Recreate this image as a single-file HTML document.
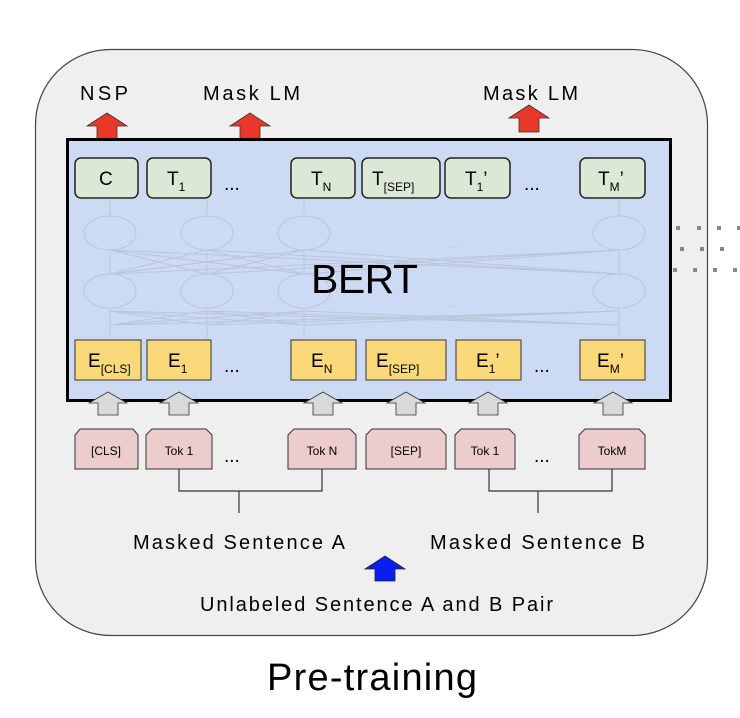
<!DOCTYPE html>
<html><head><meta charset="utf-8"><style>
html,body{margin:0;padding:0;background:#fff;}
svg{display:block;font-family:"Liberation Sans",Arial,sans-serif;}
</style></head><body>
<svg width="740" height="718" viewBox="0 0 740 718" xmlns="http://www.w3.org/2000/svg">
<rect x="35.5" y="49.5" width="672" height="586" rx="75" ry="75" fill="#efefef" stroke="#444" stroke-width="1.2"/>
<!-- dotted lines right -->
<g fill="#888">
<rect x="676" y="226" width="4" height="4"/><rect x="697" y="226" width="4" height="4"/><rect x="717" y="226" width="4" height="4"/><rect x="737" y="226" width="4" height="4"/>
<rect x="680" y="247" width="4" height="4"/><rect x="700" y="247" width="4" height="4"/><rect x="720" y="247" width="4" height="4"/>
<rect x="673" y="268" width="4" height="4"/><rect x="693" y="268" width="4" height="4"/><rect x="713" y="268" width="4" height="4"/><rect x="733" y="268" width="4" height="4"/>
</g>
<!-- top labels -->
<g font-size="20" fill="#000">
<text x="80" y="100" textLength="48">NSP</text>
<text x="203" y="100" textLength="97">Mask LM</text>
<text x="483" y="100" textLength="95">Mask LM</text>
</g>
<!-- red arrows -->
<g fill="#e8382a" stroke="#333" stroke-width="0.8">
<polygon points="107,113 127,126 117,126 117,141 97,141 97,126 87,126"/>
<polygon points="250,113 270,126 260,126 260,141 240,141 240,126 230,126"/>
<polygon points="529,105 549,118 539,118 539,132 519,132 519,118 509,118"/>
</g>
<!-- BERT box -->
<rect x="67.5" y="139.5" width="603" height="261" fill="#ccdaf3" stroke="#000" stroke-width="3"/>
<!-- network -->
<g stroke="#b9c3d6" stroke-width="1" fill="none" opacity="0.9">
<ellipse cx="110" cy="233" rx="26" ry="17"/><ellipse cx="207" cy="233" rx="26" ry="17"/><ellipse cx="304" cy="233" rx="26" ry="17"/><ellipse cx="619" cy="233" rx="26" ry="17"/>
<ellipse cx="110" cy="291" rx="26" ry="17"/><ellipse cx="207" cy="291" rx="26" ry="17"/><ellipse cx="304" cy="291" rx="26" ry="17"/><ellipse cx="619" cy="291" rx="26" ry="17"/>
<path d="M110 216V200M207 216V200M304 216V200M619 216V200"/>
<path d="M110 274V250M207 274V250M304 274V250M619 274V250M110 338V308M207 338V308M304 338V308M619 338V308"/>
<path d="M110 274L207 250M110 274L304 250M110 274L619 250M207 274L110 250M207 274L304 250M207 274L619 250M304 274L110 250M304 274L207 250M304 274L619 250M619 274L110 250M619 274L207 250M619 274L304 250"/>
<path d="M110 325L207 311M110 325L304 311M110 325L619 311M207 325L110 311M207 325L304 311M207 325L619 311M304 325L110 311M304 325L207 311M304 325L619 311M619 325L110 311M619 325L207 311M619 325L304 311"/>
</g>
<g fill="#b9c3d6" font-size="12"><text x="450" y="248">...</text><text x="450" y="307">...</text></g>
<text x="311" y="293" font-size="41" fill="#000" textLength="107">BERT</text>
<!-- T boxes -->
<g fill="#dce8d6" stroke="#222" stroke-width="1.5">
<rect x="75" y="158" width="63" height="40" rx="6"/>
<rect x="147" y="158" width="64" height="40" rx="6"/>
<rect x="291" y="158" width="64" height="40" rx="6"/>
<rect x="362" y="158" width="78" height="40" rx="6"/>
<rect x="445" y="158" width="65" height="40" rx="6"/>
<rect x="580" y="158" width="65" height="40" rx="6"/>
</g>
<g font-size="19" fill="#000">
<text x="99" y="185">C</text>
<text x="167" y="185">T<tspan font-size="12" dy="6">1</tspan></text>
<text x="311" y="185">T<tspan font-size="12" dy="6">N</tspan></text>
<text x="372" y="185">T<tspan font-size="12" dy="6">[SEP]</tspan></text>
<text x="465" y="185">T<tspan font-size="12" dy="6">1</tspan><tspan dy="-6">’</tspan></text>
<text x="598" y="185">T<tspan font-size="12" dy="6">M</tspan><tspan dy="-6">’</tspan></text>
<text x="224" y="190">...</text><text x="524" y="190">...</text>
</g>
<!-- E boxes -->
<g fill="#f9d97a" stroke="#333" stroke-width="1">
<rect x="75" y="340" width="66" height="40"/>
<rect x="147" y="340" width="64" height="40"/>
<rect x="291" y="340" width="65" height="40"/>
<rect x="366" y="340" width="80" height="40"/>
<rect x="456" y="340" width="65" height="40"/>
<rect x="580" y="340" width="65" height="40"/>
</g>
<g font-size="19" fill="#000">
<text x="88" y="367">E<tspan font-size="12" dy="6">[CLS]</tspan></text>
<text x="168" y="367">E<tspan font-size="12" dy="6">1</tspan></text>
<text x="311" y="367">E<tspan font-size="12" dy="6">N</tspan></text>
<text x="376" y="367">E<tspan font-size="12" dy="6">[SEP]</tspan></text>
<text x="476" y="367">E<tspan font-size="12" dy="6">1</tspan><tspan dy="-6">’</tspan></text>
<text x="597" y="367">E<tspan font-size="12" dy="6">M</tspan><tspan dy="-6">’</tspan></text>
<text x="224" y="372">...</text><text x="534" y="372">...</text>
</g>
<!-- gray arrows -->
<g fill="#d9d9d9" stroke="#333" stroke-width="0.8">
<polygon points="108,392 127,403 118,403 118,415 98,415 98,403 89,403"/>
<polygon points="179,392 198,403 189,403 189,415 169,415 169,403 160,403"/>
<polygon points="323,392 342,403 333,403 333,415 313,415 313,403 304,403"/>
<polygon points="406,392 425,403 416,403 416,415 396,415 396,403 387,403"/>
<polygon points="488,392 507,403 498,403 498,415 478,415 478,403 469,403"/>
<polygon points="613,392 632,403 623,403 623,415 603,415 603,403 594,403"/>
</g>
<!-- token boxes -->
<g fill="#eccccc" stroke="#333" stroke-width="1">
<polygon points="80,429 133,429 138,435 138,469 75,469 75,435"/>
<polygon points="152,429 206,429 212,435 212,469 146,469 146,435"/>
<polygon points="294,429 350,429 356,435 356,469 288,469 288,435"/>
<polygon points="372,429 440,429 446,435 446,469 366,469 366,435"/>
<polygon points="461,429 509,429 515,435 515,469 455,469 455,435"/>
<polygon points="585,429 639,429 645,435 645,469 579,469 579,435"/>
</g>
<g font-size="12" fill="#000" text-anchor="middle">
<text x="106" y="455">[CLS]</text>
<text x="179" y="455">Tok 1</text>
<text x="322" y="455">Tok N</text>
<text x="406" y="455">[SEP]</text>
<text x="485" y="455">Tok 1</text>
<text x="612" y="455">TokM</text>
</g>
<g font-size="19" fill="#000"><text x="224" y="462">...</text><text x="534" y="462">...</text></g>
<g stroke="#333" stroke-width="1.2" fill="none">
<path d="M179 469V491H322V469M239 491V513"/>
<path d="M489 469V491H612V469M538 491V513"/>
</g>
<g font-size="20" fill="#000">
<text x="133" y="549" textLength="212">Masked Sentence A</text>
<text x="430" y="549" textLength="215">Masked Sentence B</text>
<text x="200" y="611" textLength="353">Unlabeled Sentence A and B Pair</text>
</g>
<polygon points="385,556 405,569 395,569 395,581 375,581 375,569 365,569" fill="#0a1ef0" stroke="#222" stroke-width="0.8"/>
<text x="267" y="690" font-size="38" fill="#000" textLength="210">Pre-training</text>
</svg>
</body></html>
